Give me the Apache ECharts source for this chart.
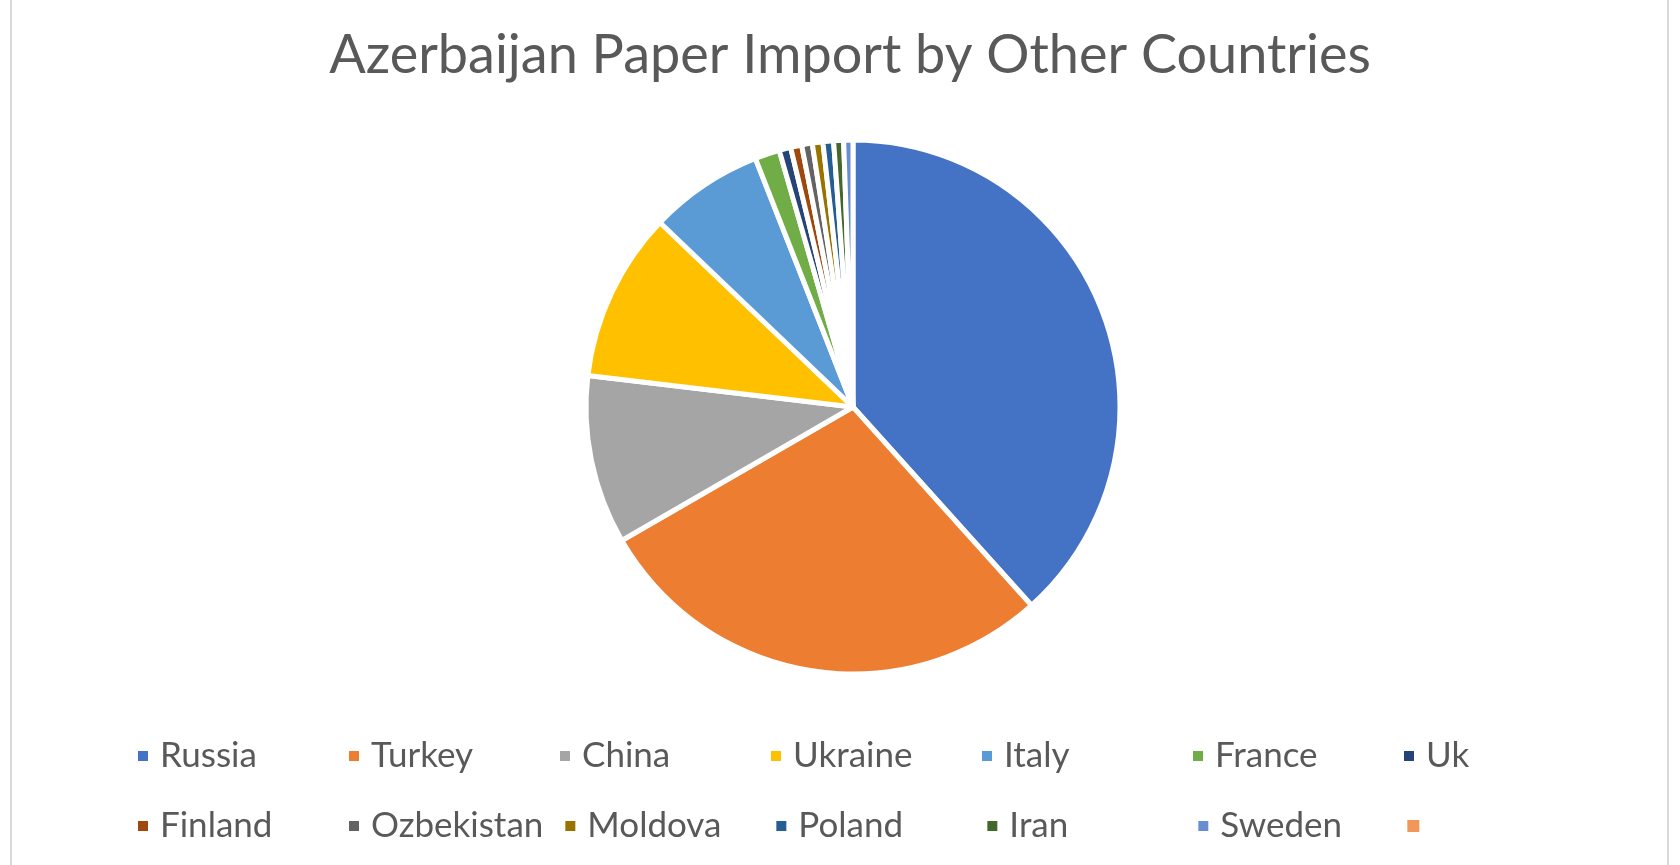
<!DOCTYPE html>
<html>
<head>
<meta charset="utf-8">
<script src="https://cdn.jsdelivr.net/npm/echarts@6/dist/echarts.min.js"></script>
<style>
html,body{margin:0;padding:0;background:#fff;}
#chart{width:1680px;height:865px;}
</style>
</head>
<body>
<div id="chart"></div>
<script>
const titleText = 'Azerbaijan Paper Import by Other Countries';
const countries = ['Russia','Turkey','China','Ukraine','Italy','France','Uk','Finland','Ozbekistan','Moldova','Poland','Iran','Sweden',' '];
const shares = [38.3, 28.3, 10.2, 10.25, 6.9, 1.5, 0.7, 0.67, 0.64, 0.64, 0.64, 0.6, 0.56, 0];
const colors = ['#4472C4','#ED7D31','#A5A5A5','#FFC000','#5B9BD5','#70AD47','#264478','#9E480E','#636363','#997300','#255E91','#43682B','#698ED0','#F1975A'];

const FONT = 'Lato, "Open Sans", sans-serif';
const chart = echarts.init(document.getElementById('chart'));
const pieData = countries.map((c, i) => {
  const item = { name: c, value: shares[i] };
  if (shares[i] === 0) item.itemStyle = { borderWidth: 0 };
  return item;
});
chart.setOption({
  animation: false,
  color: colors,
  title: {
    text: titleText,
    left: 845, top: 24, textAlign: 'center',
    textStyle: { fontFamily: FONT, fontSize: 54, fontWeight: 'normal', color: '#595959' }
  },
  legend: {
    left: 136, top: 731, width: 1500,
    padding: 0,
    itemGap: 20,
    itemWidth: 12, itemHeight: 12,
    icon: 'rect',
    data: countries,
    selectedMode: false,
    textStyle: { fontFamily: FONT, fontSize: 35, color: '#595959', width: 167, padding: [0, 0, 0, 6], lineHeight: 50, overflow: 'none' }
  },
  graphic: [{
    type: 'rect', silent: true,
    shape: { x: 11, y: -5, width: 1657, height: 880 },
    style: { fill: 'none', stroke: '#D9D9D9', lineWidth: 2 }
  }],
  series: [{
    type: 'pie',
    center: [853, 407],
    radius: 267,
    startAngle: 90,
    clockwise: true,
    label: { show: false },
    labelLine: { show: false },
    emphasis: { disabled: true },
    itemStyle: { borderColor: '#ffffff', borderWidth: 5 },
    data: pieData
  }]
});
</script>
</body>
</html>
